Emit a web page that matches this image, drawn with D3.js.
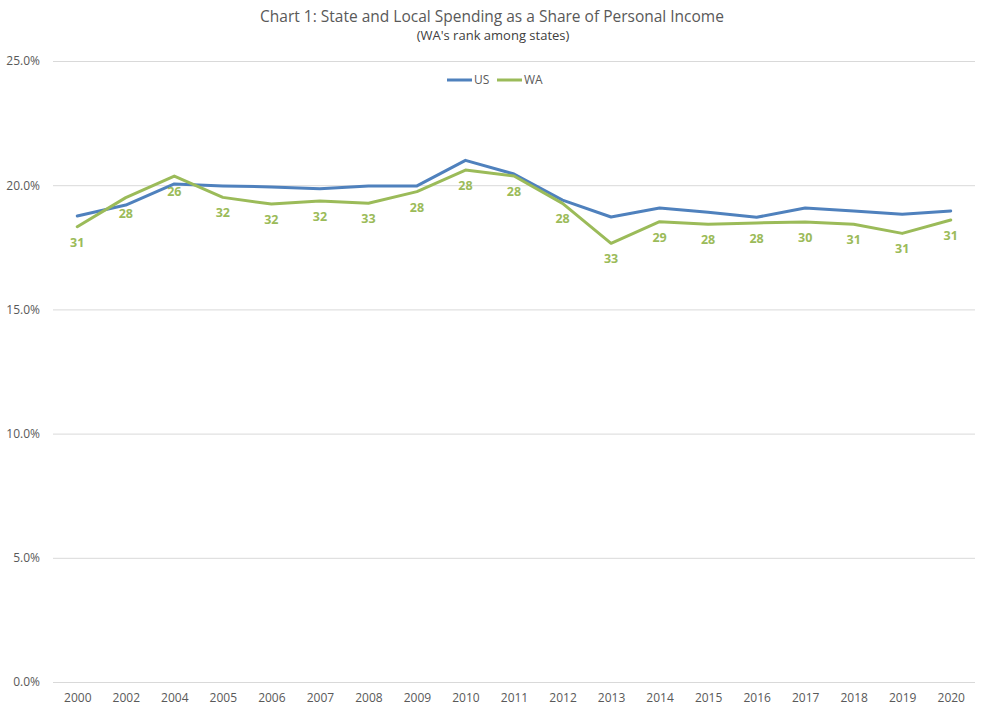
<!DOCTYPE html>
<html><head><meta charset="utf-8">
<script src="https://cdn.jsdelivr.net/npm/d3@7"></script>
<style>body{margin:0;background:#fff;}svg{display:block;font-family:"Open Sans","Noto Sans",sans-serif;}</style>
</head><body>
<svg id="c" width="984" height="718"></svg>
<script>
const years = ["2000","2002","2004","2005","2006","2007","2008","2009","2010","2011","2012","2013","2014","2015","2016","2017","2018","2019","2020"];
const usValues = [18.76,19.2,20.05,19.97,19.93,19.86,19.97,19.97,21.0,20.45,19.4,18.72,19.08,18.91,18.71,19.08,18.96,18.83,18.96];
const waValues = [18.33,19.5,20.37,19.51,19.24,19.36,19.27,19.74,20.61,20.37,19.27,17.66,18.53,18.43,18.48,18.52,18.43,18.06,18.6];
const waRanks = [31,28,26,32,32,32,33,28,28,28,28,33,29,28,28,30,31,31,31];
const yTicks = [0,5,10,15,20,25];

(function(){
const svg = d3.select("#c");
const pl = 53, pr = 975, pt = 61, pb = 682;
const x = d3.scalePoint().domain(years).range([pl, pr]).padding(0.5);
const y = d3.scaleLinear().domain([0,25]).range([pb, pt]);
const grey = "#595959";
const ff = '"Open Sans","Noto Sans",sans-serif';

svg.append("g").selectAll("line").data(yTicks).join("line")
  .attr("x1", pl).attr("x2", pr)
  .attr("y1", d => y(d)+0.5).attr("y2", d => y(d)+0.5)
  .attr("stroke", "#d9d9d9").attr("stroke-width", 1);

const yAxis = d3.axisLeft(y).tickValues(yTicks).tickFormat(d => d.toFixed(1) + "%").tickSize(0).tickPadding(0);
const ya = svg.append("g").attr("transform", `translate(${pl-13},0)`).call(yAxis);
ya.select(".domain").remove();
ya.selectAll("text").attr("fill", grey).style("font-size", "12px").style("font-family", ff);

const xAxis = d3.axisBottom(x).tickSize(0).tickPadding(0);
const xa = svg.append("g").attr("transform", `translate(0,${pb+11})`).call(xAxis);
xa.select(".domain").remove();
xa.selectAll("text").attr("fill", grey).style("font-size", "12px").style("font-family", ff);

const line = d3.line().x((d,i) => x(years[i])).y(d => y(d));
svg.append("path").datum(usValues).attr("d", line).attr("fill","none")
  .attr("stroke", "#4F81BD").attr("stroke-width", 3).attr("stroke-linejoin","round").attr("stroke-linecap","round");
svg.append("path").datum(waValues).attr("d", line).attr("fill","none")
  .attr("stroke", "#9BBB59").attr("stroke-width", 3).attr("stroke-linejoin","round").attr("stroke-linecap","round");

svg.append("g").selectAll("text").data(waValues).join("text")
  .attr("x", (d,i) => x(years[i])).attr("y", d => y(d) + 20)
  .attr("text-anchor", "middle").attr("fill", "#9BBB59")
  .style("font-size", "12.5px").style("font-weight", "bold")
  .text((d,i) => waRanks[i]);

svg.append("text").attr("x", 492).attr("y", 22).attr("text-anchor","middle")
  .attr("fill", grey).style("font-size","15.5px")
  .text("Chart 1: State and Local Spending as a Share of Personal Income");
svg.append("text").attr("x", 493).attr("y", 40).attr("text-anchor","middle")
  .attr("fill", "#404040").style("font-size","13px")
  .text("(WA's rank among states)");

const legend = [{name:"US", color:"#4F81BD", x:447},{name:"WA", color:"#9BBB59", x:497}];
const lg = svg.append("g").selectAll("g").data(legend).join("g");
lg.append("line").attr("x1", d => d.x).attr("x2", d => d.x+25).attr("y1", 80).attr("y2", 80)
  .attr("stroke", d => d.color).attr("stroke-width", 3);
lg.append("text").attr("x", d => d.x+27).attr("y", 84).attr("fill", grey)
  .style("font-size","12px").text(d => d.name);
})();
</script>
</body></html>
